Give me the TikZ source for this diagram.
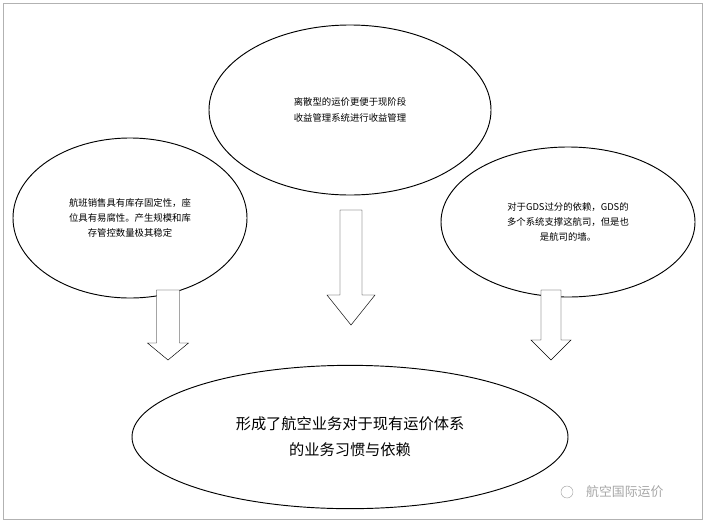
\documentclass[tikz,border=0pt]{standalone}
\usepackage{fontspec}
\newfontfamily\cjk{Noto Sans CJK SC}
\usetikzlibrary{shapes.geometric}
\tikzset{
  bubble/.style={draw,thick,ellipse,align=center,font=\cjk\fontsize{8}{13}\selectfont},
  blockarrow/.style={draw,fill=white}
}
% block arrow: centre x, shaft half width, head half width, top y, head y, tip y
\newcommand{\blockarrow}[6]{%
  \draw [blockarrow] (#1-#2,#4) -- (#1+#2,#4) -- (#1+#2,#5) -- (#1+#3,#5)
    -- (#1,#6) -- (#1-#3,#5) -- (#1-#2,#5) -- cycle;}
\begin{document}
\begin{tikzpicture}[x=0.03cm,y=-0.03cm]
\useasboundingbox (0,0) rectangle (705,522);
\draw [gray!60] (3,3) rectangle (702,519);

% ellipses
\node [bubble,minimum width=8.46cm,minimum height=5.1cm] (top) at (350,110)
  {离散型的运价更便于现阶段\\收益管理系统进行收益管理};
\node [bubble,minimum width=7.02cm,minimum height=4.8cm] (left) at (130,218)
  {航班销售具有库存固定性，座\\位具有易腐性。产生规模和库\\存管控数量极其稳定\hspace{3em}};
\node [bubble,minimum width=7.62cm,minimum height=4.5cm] (right) at (568,222)
  {对于GDS过分的依赖，GDS的\\多个系统支撑这航司，但是也\\是航司的墙。\hspace{5.5em}};
\node [bubble,font=\cjk\fontsize{13}{22}\selectfont,minimum width=13.08cm,minimum height=4.3cm] (bottom) at (350,437)
  {形成了航空业务对于现有运价体系\\的业务习惯与依赖\hspace{4em}};

% block arrows
\blockarrow{351}{11}{24}{210}{295}{325}
\blockarrow{168}{11.5}{20.5}{290}{343}{360}
\blockarrow{551}{10}{20}{290}{340}{360}

% watermark
\node [gray!70,font=\cjk\fontsize{11}{13}\selectfont,anchor=west] (mark) at (582,492) {航空国际运价};
\draw [gray!70] (567,492) circle (6);
\end{tikzpicture}
\end{document}
